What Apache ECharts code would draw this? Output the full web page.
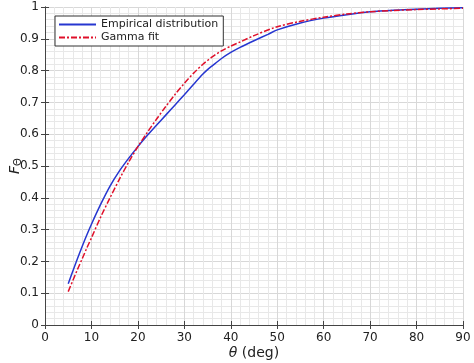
<!DOCTYPE html>
<html><head><meta charset="utf-8">
<script src="https://cdn.jsdelivr.net/npm/echarts@6/dist/echarts.min.js"></script>
<style>html,body{margin:0;padding:0;background:#fff}#c{width:474px;height:363px}</style>
</head><body><div id="c"></div>
<script>
const xTicks = [0,10,20,30,40,50,60,70,80,90];
const yTicks = [0,0.1,0.2,0.3,0.4,0.5,0.6,0.7,0.8,0.9,1];
const empX = [5,6,7,8,9,10,12,14,16,18,20,22,24,26,28,30,32,34,35,36,38,40,42,45,48,50,55,60,65,70,75,80,85,90];
const empY = [0.13,0.17,0.209,0.247,0.283,0.317,0.38,0.437,0.484,0.524,0.561,0.596,0.628,0.66,0.692,0.724,0.757,0.789,0.803,0.815,0.838,0.857,0.873,0.894,0.914,0.928,0.95,0.965,0.976,0.985,0.99,0.993,0.996,0.998];
const gamX = [5,6,7,8,9,10,12,14,16,18,20,22,24,26,28,30,32,34,36,38,40,42,45,50,55,60,65,70,75,80,85,90];
const gamY = [0.105,0.14,0.175,0.208,0.242,0.274,0.34,0.40,0.458,0.512,0.561,0.605,0.647,0.687,0.725,0.76,0.792,0.82,0.843,0.862,0.877,0.89,0.91,0.938,0.955,0.968,0.978,0.985,0.989,0.992,0.994,0.996];

const F = 'DejaVu Sans';
const chart = echarts.init(document.getElementById('c'));
const axisCommon = {
  axisLine:{show:true,lineStyle:{color:'#444',width:1}},
  axisTick:{show:true,inside:true,length:4,lineStyle:{color:'#444'}},
};
chart.setOption({
  animation:false,
  backgroundColor:'#fff',
  grid:{left:45,right:11,top:7,bottom:38,containLabel:false,outerBoundsMode:'none'},
  legend:{
    left:55, top:16, orient:'vertical',
    backgroundColor:'#fff', borderColor:'#333', borderWidth:1, borderRadius:0,
    padding:[3,5,3,3], itemGap:2, itemWidth:37, itemHeight:13,
    itemStyle:{opacity:0},
    textStyle:{fontFamily:F,fontSize:11,color:'#222'},
    data:['Empirical distribution','Gamma fit']
  },
  xAxis:[{
    type:'value', min:0, max:90, interval:10, position:'bottom',
    ...axisCommon,
    axisLabel:{fontFamily:F,fontSize:12,color:'#222',margin:7},
    splitLine:{show:true,lineStyle:{color:'#d8d8d8',width:1}},
    minorTick:{show:false, splitNumber:5},
    minorSplitLine:{show:true,lineStyle:{color:'#e8e8e8',width:1}},
    name:'{i|θ} (deg)', nameLocation:'middle', nameGap:21, nameMoveOverlap:false,
    nameTextStyle:{fontFamily:F,fontSize:14,color:'#222',rich:{i:{fontStyle:'italic',fontFamily:F,fontSize:14,color:'#222'}}}
  },{
    type:'value', min:0, max:90, interval:10, position:'top',
    ...axisCommon, axisLabel:{show:false}, splitLine:{show:false}
  }],
  yAxis:[{
    type:'value', min:0, max:1, interval:0.1, position:'left',
    ...axisCommon,
    axisLabel:{fontFamily:F,fontSize:12,color:'#222',margin:6,formatter:v=>String(+v.toFixed(1))},
    splitLine:{show:true,lineStyle:{color:'#d8d8d8',width:1}},
    minorTick:{show:false, splitNumber:5},
    minorSplitLine:{show:true,lineStyle:{color:'#e8e8e8',width:1}},
    name:'{i|F}{s|Θ}', nameLocation:'middle', nameGap:22, nameRotate:90, nameMoveOverlap:false,
    nameTextStyle:{rich:{i:{fontStyle:'italic',fontFamily:F,fontSize:14,color:'#222'},s:{fontFamily:F,fontSize:10,color:'#222',padding:[6,0,0,0]}}}
  },{
    type:'value', min:0, max:1, interval:0.1, position:'right',
    ...axisCommon, axisLabel:{show:false}, splitLine:{show:false}
  }],
  series:[{
    name:'Empirical distribution', type:'line', symbol:'none', smooth:0.3,
    data: empX.map((x,i)=>[x,empY[i]]),
    lineStyle:{color:'#2636d0',width:1.5}, itemStyle:{color:'#2636d0'}
  },{
    name:'Gamma fit', type:'line', symbol:'none', smooth:0.3,
    data: gamX.map((x,i)=>[x,gamY[i]]),
    lineStyle:{color:'#e0102a',width:1.5,type:[6,2,2,2]}, itemStyle:{color:'#e0102a'}
  }]
});
</script></body></html>
